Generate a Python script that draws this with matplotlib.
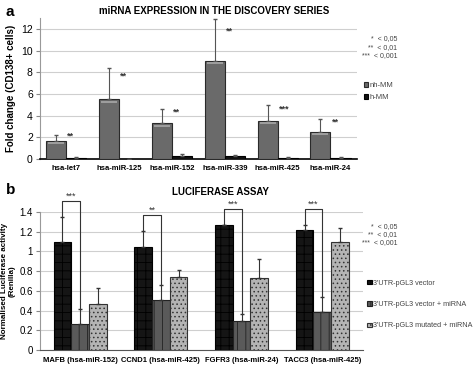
import numpy as np
import matplotlib
matplotlib.use('Agg')
import matplotlib.pyplot as plt

plt.rcParams['font.family'] = ['Liberation Sans', 'DejaVu Sans']
plt.rcParams['hatch.linewidth'] = 0.6

# Панель a: экспрессия miRNA
mirnas = ['hsa-let7', 'hsa-miR-125', 'hsa-miR-152', 'hsa-miR-339', 'hsa-miR-425', 'hsa-miR-24']
nh_mm = [1.65, 5.5, 3.3, 9.05, 3.5, 2.5]
nh_mm_err = [0.55, 2.9, 1.3, 3.85, 1.45, 1.2]
h_mm = [0.1, 0.02, 0.25, 0.25, 0.1, 0.1]
h_mm_err = [0.05, 0.0, 0.2, 0.1, 0.05, 0.05]
stars_a = ['**', '**', '**', '**', '***', '**']

# Панель b: люциферазный тест
genes = ['MAFB (hsa-miR-152)', 'CCND1 (hsa-miR-425)', 'FGFR3 (hsa-miR-24)', 'TACC3 (hsa-miR-425)']
vec = [1.10, 1.05, 1.27, 1.22]
vec_err = [0.25, 0.16, 0.0, 0.05]
vec_mir = [0.26, 0.51, 0.29, 0.39]
vec_mir_err = [0.16, 0.15, 0.08, 0.15]
mut_mir = [0.47, 0.74, 0.73, 1.10]
mut_mir_err = [0.16, 0.07, 0.19, 0.14]
stars_b = ['***', '**', '***', '***']

fig = plt.figure(figsize=(4.74, 3.65), dpi=100)

# -----------------------------------------------------------------------------------------------
ax1 = fig.add_axes([0.084, 0.5644, 0.669, 0.386])
x = np.arange(len(mirnas))
w = 0.38
ax1.bar(x - w / 2, nh_mm, w, color='#6a6a6a', edgecolor='#2a2a2a', linewidth=0.8,
        yerr=[np.zeros(len(x)), nh_mm_err], error_kw=dict(ecolor='#555555', elinewidth=0.8, capsize=1.5),
        label='nh-MM', zorder=3)
ax1.bar(x + w / 2, h_mm, w, color='#111111', edgecolor='#000000', linewidth=0.8,
        yerr=[np.zeros(len(x)), h_mm_err], error_kw=dict(ecolor='#555555', elinewidth=0.8, capsize=1.5),
        label='h-MM', zorder=3)
# светлая полоска у верхнего края столбца
ax1.hlines(np.array(nh_mm) - 0.22, x - w / 2 - w * 0.4, x - w / 2 + w * 0.4, color='#a8a8a8', linewidth=1.2, zorder=4)
for i in range(len(x)):
    top = nh_mm[i] + nh_mm_err[i]
    ax1.text(x[i] + 0.02, top - 0.3 * nh_mm_err[i] + 0.1, stars_a[i], fontsize=6.5,
             fontweight='bold', ha='left', va='center', color='#333333')
ax1.set_xlim(-0.5, len(x) - 0.5)
ax1.set_ylim(0, 13)
ax1.set_yticks(range(0, 13, 2))
ax1.set_xticks(x)
ax1.set_xticklabels(mirnas, fontsize=5.5, fontweight='bold')
ax1.tick_params(axis='y', labelsize=7.5, length=3, pad=2, color='#888888')
ax1.tick_params(axis='x', length=0, pad=4)
ax1.yaxis.grid(True, color='#cfcfcf', linewidth=0.8, zorder=0)
ax1.set_axisbelow(True)
for s in ['top', 'right']:
    ax1.spines[s].set_visible(False)
ax1.spines['left'].set_color('#999999')
ax1.spines['bottom'].set_linewidth(1.2)
ax1.set_ylabel('Fold change (CD138+ cells)', fontsize=7, fontweight='bold')
ax1.yaxis.set_label_coords(-0.075, 0.5)
ax1.text(0.55, 1.05, 'miRNA EXPRESSION IN THE DISCOVERY SERIES', transform=ax1.transAxes,
         fontsize=7, fontweight='bold', ha='center', va='center')
ax1.legend(loc='center left', bbox_to_anchor=(1.0, 0.48), frameon=False, fontsize=5.5,
           handlelength=0.6, handleheight=0.6, handletextpad=0.2, labelspacing=0.6, labelcolor='#444444')
fig.text(0.012, 0.985, 'a', fontsize=11, fontweight='bold', va='top')

# -----------------------------------------------------------------------------------------------
ax2 = fig.add_axes([0.084, 0.041, 0.681, 0.378])
xb = np.arange(len(genes))
wb = 0.22
err_kw = dict(ecolor='#333333', elinewidth=0.8, capsize=1.5)
ax2.bar(xb - wb, vec, wb, color='#151515', edgecolor='#000000', hatch='++', linewidth=0.8,
        yerr=[np.zeros(len(xb)), vec_err], error_kw=err_kw, label="3'UTR-pGL3 vector", zorder=3)
ax2.bar(xb, vec_mir, wb, color='#5a5a5a', edgecolor='#222222', hatch='||', linewidth=0.8,
        yerr=[np.zeros(len(xb)), vec_mir_err], error_kw=err_kw, label="3'UTR-pGL3 vector + miRNA", zorder=3)
ax2.bar(xb + wb, mut_mir, wb, color='#b4b4b4', edgecolor='#333333', hatch='....', linewidth=0.8,
        yerr=[np.zeros(len(xb)), mut_mir_err], error_kw=err_kw, label="3'UTR-pGL3 mutated + miRNA", zorder=3)
# скобки значимости
for i in range(len(xb)):
    y_left = vec[i] + vec_err[i] + 0.01
    y_right = vec_mir[i] + vec_mir_err[i] + 0.01
    y_top = max(y_left, y_right) + 0.15
    ax2.plot([xb[i] - wb, xb[i] - wb, xb[i], xb[i]], [y_left, y_top, y_top, y_right],
             color='#333333', linewidth=0.8, clip_on=False, zorder=4)
    ax2.text(xb[i] - wb / 2, y_top + 0.005, stars_b[i], fontsize=6.5, ha='center', va='bottom', color='#333333')
ax2.set_xlim(-0.5, len(xb) - 0.5)
ax2.set_ylim(0, 1.4)
ax2.set_yticks([0, 0.2, 0.4, 0.6, 0.8, 1, 1.2, 1.4])
ax2.set_yticklabels(['0', '0.2', '0.4', '0.6', '0.8', '1', '1.2', '1.4'])
ax2.set_xticks(xb)
ax2.set_xticklabels(genes, fontsize=5.5, fontweight='bold')
ax2.tick_params(axis='y', labelsize=7, length=3, pad=2, color='#888888')
ax2.tick_params(axis='x', length=0, pad=5)
ax2.yaxis.grid(True, color='#cfcfcf', linewidth=0.8, zorder=0)
ax2.set_axisbelow(True)
for s in ['top', 'right']:
    ax2.spines[s].set_visible(False)
ax2.spines['left'].set_color('#999999')
ax2.spines['bottom'].set_color('#555555')
ax2.set_ylabel('Normalised Luciferase activity\n(Renilla)', fontsize=5.8, fontweight='bold', linespacing=1.1)
ax2.yaxis.set_label_coords(-0.075, 0.5)
ax2.text(0.56, 1.148, 'LUCIFERASE ASSAY', transform=ax2.transAxes, fontsize=7, fontweight='bold', ha='center', va='center')
ax2.legend(loc='center left', bbox_to_anchor=(0.995, 0.33), frameon=False, fontsize=5.2,
           handlelength=0.6, handleheight=0.6, handletextpad=0.2, labelspacing=2.0, labelcolor='#444444')
fig.text(0.012, 0.50, 'b', fontsize=11, fontweight='bold', va='top')

# пороги значимости
for yy in [0.903, 0.389]:
    fig.text(0.838, yy, '*  < 0,05\n**  < 0,01\n***  < 0,001', fontsize=5, ha='right', va='top',
             color='#444444', linespacing=1.25, multialignment='right')

fig.savefig('out.png', dpi=100)
